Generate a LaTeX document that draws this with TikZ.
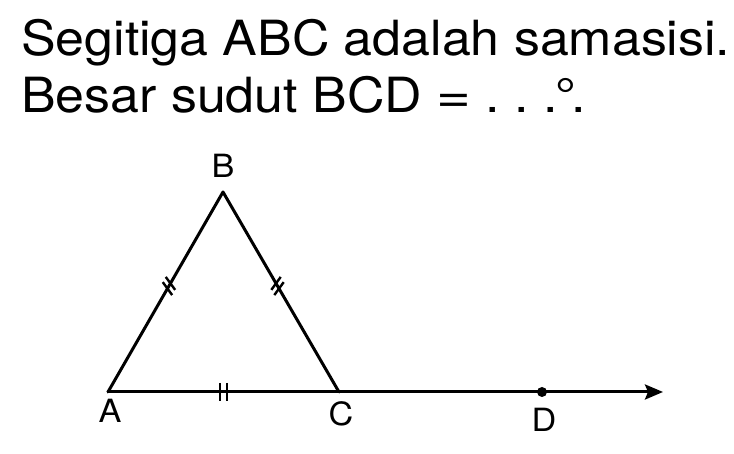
\documentclass[tikz,border=0pt]{standalone}
\usepackage{fontspec}
\setmainfont[FakeStretch=1.07]{TeX Gyre Heros}
\usetikzlibrary{calc,arrows.meta}
\tikzset{
  edge/.style={line width=3pt, line cap=round, line join=round},
  tickmark/.style={line width=2.4pt},
  ptlabel/.style={font=\fontsize{32}{36}\selectfont, inner sep=0pt},
  title/.style={font=\fontsize{48.5}{56}\selectfont, inner sep=0pt, anchor=base west},
}
\begin{document}
\begin{tikzpicture}[x=1pt,y=1pt]
\useasboundingbox (0,0) rectangle (734,454);
\node[title] (t1) at (21,398) {Segitiga ABC adalah samasisi.};
\node[title] (t2) at (21,341) {Besar sudut BCD \scalebox{1.15}[1]{=} .\hspace{0.3em}.\hspace{0.3em}.\kern-0.06em\raisebox{0.02em}{°}\kern-0.1em.};
\coordinate (A) at (108,62);
\coordinate (B) at (223,262);
\coordinate (C) at (339,62);
\coordinate (E) at (663,62);
\coordinate (D) at (542,62);
\draw[edge] (A) -- (B) -- (C);
\draw[edge, -{Stealth[length=18pt,width=15pt,inset=3pt]}] (A) -- (E);
\fill (D) circle (5pt);
\node[ptlabel] (lA) at (110,43) {A};
\node[ptlabel] (lB) at (223,288) {B};
\node[ptlabel] (lC) at (341,40) {C};
\node[ptlabel] (lD) at (544,34) {D};
% tick marks
\coordinate (tAB) at ($(A)!0.53!(B)$);
\coordinate (tBC) at ($(B)!0.47!(C)$);
\coordinate (tAC) at ($(A)!0.5!(C)$);
\draw[tickmark] ([shift={(60:-3)}]tAB) ++(-54:8) -- ++(126:16);
\draw[tickmark] ([shift={(60:3)}]tAB) ++(-54:8) -- ++(126:16);
\draw[tickmark] ([shift={(-60:-3)}]tBC) ++(54:8) -- ++(234:16);
\draw[tickmark] ([shift={(-60:3)}]tBC) ++(54:8) -- ++(234:16);
\draw[tickmark] ([shift={(-3.5,0)}]tAC) ++(0,9) -- ++(0,-18);
\draw[tickmark] ([shift={(3.5,0)}]tAC) ++(0,9) -- ++(0,-18);
\end{tikzpicture}
\end{document}
